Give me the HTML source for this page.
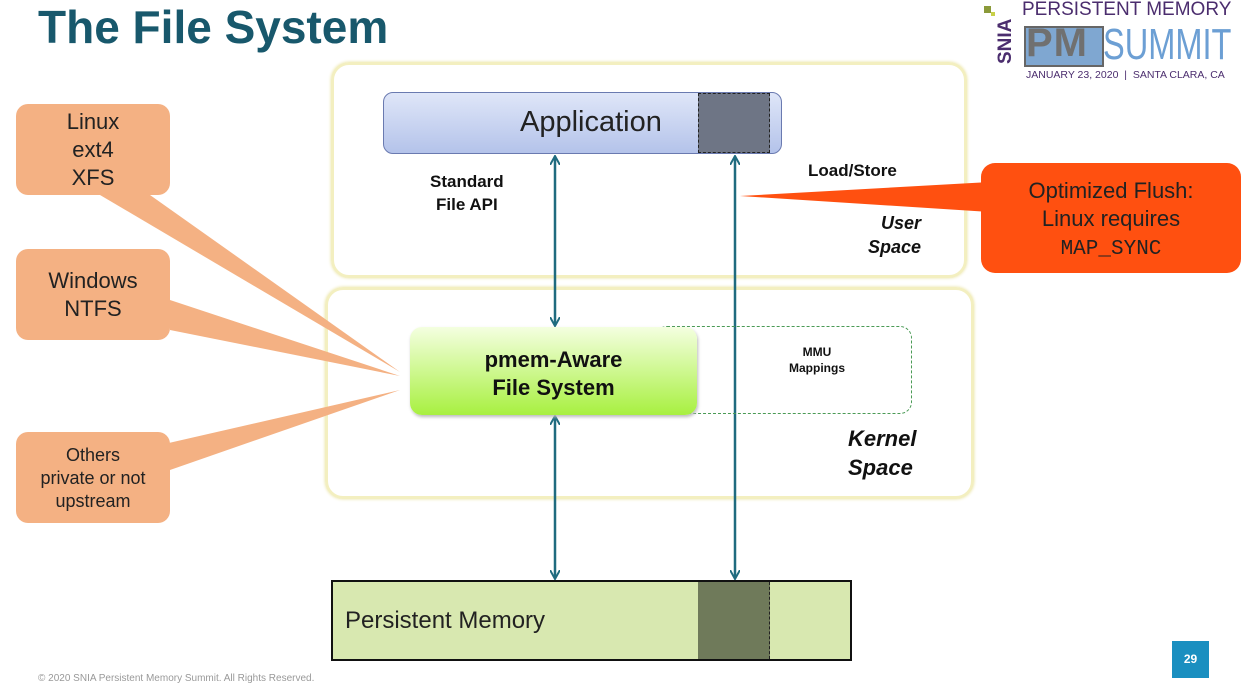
<!DOCTYPE html>
<html><head><style>
body{margin:0;width:1252px;height:687px;background:#fff;position:relative;overflow:hidden;font-family:"Liberation Sans",sans-serif}
.a{position:absolute}
.ob{position:absolute;background:#f4b183;border-radius:12px;text-align:center;color:#222;font-size:22px;line-height:28px}
.space{position:absolute;border:3px solid #f3efc0;border-radius:18px;box-shadow:0 0 3px #e8e2a0}
.bl{font-weight:bold;color:#111}
</style></head><body>
<div class="a" style="left:38px;top:0px;font-size:46px;font-weight:bold;color:#18586c">The File System</div>

<!-- logo -->
<div class="a" style="left:984px;top:6px;width:7px;height:7px;background:#8b9a3a"></div>
<div class="a" style="left:991px;top:12px;width:4px;height:4px;background:#c8d048"></div>
<div class="a" style="left:995px;top:64px;transform:rotate(-90deg);transform-origin:0 0;font-size:19px;font-weight:bold;color:#4b2d6e">SNIA</div>
<div class="a" style="left:1022px;top:-1px;font-size:19px;color:#4b2d6e">PERSISTENT MEMORY</div>
<div class="a" style="left:1024px;top:26px;width:76px;height:37px;background:#7fa7d1;border:2px solid #666"></div>
<div class="a" style="left:1026px;top:21px;font-size:40px;font-weight:bold;color:#707070;letter-spacing:1px">PM</div>
<div class="a" style="left:1103px;top:20px;font-size:44px;color:#6c9fd4;transform:scaleX(0.74);transform-origin:0 0">SUMMIT</div>
<div class="a" style="left:1026px;top:69px;font-size:10.5px;color:#4b2d6e">JANUARY 23, 2020 &nbsp;| &nbsp;SANTA CLARA, CA</div>

<!-- spaces -->
<div class="space" style="left:331px;top:62px;width:630px;height:210px"></div>
<div class="space" style="left:325px;top:287px;width:643px;height:206px"></div>

<svg class="a" style="left:0;top:0" width="1252" height="687">
<polygon points="100,195 150,195 400,372" fill="#f4b183"/>
<polygon points="170,300 170,330 400,376" fill="#f4b183"/>
<polygon points="160,445 170,470 400,390" fill="#f4b183"/>
<polygon points="990,182 990,212 740,196" fill="#ff5010"/>
<defs><marker id="m" markerWidth="10" markerHeight="10" refX="8" refY="5" orient="auto-start-reverse" markerUnits="userSpaceOnUse"><path d="M0,0 L9,5 L0,10" fill="none" stroke="#1f6b7f" stroke-width="2"/></marker></defs>
<line x1="555" y1="157" x2="555" y2="325" stroke="#1f6b7f" stroke-width="2.5" marker-start="url(#m)" marker-end="url(#m)"/>
<line x1="555" y1="417" x2="555" y2="578" stroke="#1f6b7f" stroke-width="2.5" marker-start="url(#m)" marker-end="url(#m)"/>
<line x1="735" y1="157" x2="735" y2="578" stroke="#1f6b7f" stroke-width="2.5" marker-start="url(#m)" marker-end="url(#m)"/>
</svg>

<div class="ob" style="left:16px;top:104px;width:154px;height:91px;padding-top:4px;box-sizing:border-box">Linux<br>ext4<br>XFS</div>
<div class="ob" style="left:16px;top:249px;width:154px;height:91px;padding-top:18px;box-sizing:border-box">Windows<br>NTFS</div>
<div class="ob" style="left:16px;top:432px;width:154px;height:91px;padding-top:12px;box-sizing:border-box;font-size:18px;line-height:23px">Others<br>private or not<br>upstream</div>
<div class="a" style="left:981px;top:163px;width:260px;height:110px;background:#ff5010;border-radius:14px;text-align:center;color:#222;font-size:22px;line-height:28px;padding-top:14px;box-sizing:border-box">Optimized Flush:<br>Linux requires<br><span style="font-family:'Liberation Mono',monospace;font-size:21px">MAP_SYNC</span></div>

<!-- application -->
<div class="a" style="left:383px;top:92px;width:399px;height:62px;border:1.5px solid #6a7ab0;border-radius:10px;background:linear-gradient(#dfe6f8,#b4c3ea);box-sizing:border-box"></div>
<div class="a" style="left:698px;top:93px;width:72px;height:60px;background:#6e7585;border:1.5px dashed #222;box-sizing:border-box"></div>
<div class="a" style="left:520px;top:106px;font-size:29px;color:#222">Application</div>
<div class="a bl" style="left:430px;top:170px;font-size:17px;text-align:center;line-height:23px">Standard<br>File API</div>
<div class="a bl" style="left:808px;top:161px;font-size:17px">Load/Store</div>
<div class="a bl" style="left:868px;top:211px;font-size:18px;font-style:italic;text-align:right;line-height:24px">User<br>Space</div>

<!-- kernel -->
<div class="a" style="left:655px;top:326px;width:257px;height:88px;border:1.5px dashed #4a9a55;border-radius:12px;box-sizing:border-box"></div>
<div class="a bl" style="left:789px;top:344px;font-size:12px;text-align:center;line-height:16px">MMU<br>Mappings</div>
<div class="a" style="left:410px;top:327px;width:287px;height:88px;border-radius:12px;background:linear-gradient(#f4ffe0,#a8f040);box-shadow:1px 2px 3px #bbb;text-align:center;font-weight:bold;font-size:22px;line-height:28px;padding-top:19px;box-sizing:border-box;color:#111">pmem-Aware<br>File System</div>
<div class="a bl" style="left:848px;top:424px;font-size:22px;font-style:italic;line-height:29px">Kernel<br>Space</div>

<!-- pmem -->
<div class="a" style="left:331px;top:580px;width:521px;height:81px;border:2px solid #111;background:#d8e8b0;box-sizing:border-box"></div>
<div class="a" style="left:698px;top:582px;width:72px;height:77px;background:#6f7a5a;border-right:1.5px dashed #222;box-sizing:border-box"></div>
<div class="a" style="left:345px;top:607px;font-size:24px;color:#222">Persistent Memory</div>

<div class="a" style="left:38px;top:673px;font-size:10px;color:#999">© 2020 SNIA Persistent Memory Summit. All Rights Reserved.</div>
<div class="a" style="left:1172px;top:641px;width:37px;height:37px;background:#1a8fc0;color:#fff;font-size:12px;font-weight:bold;text-align:center;line-height:37px">29</div>
</body></html>
